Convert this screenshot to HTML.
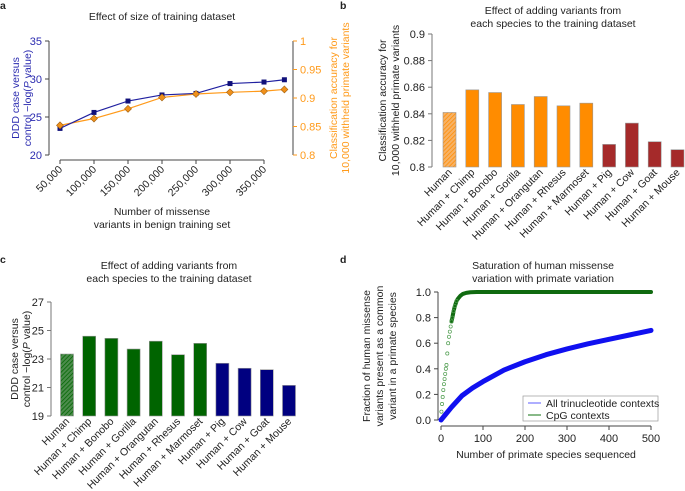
<!DOCTYPE html>
<html><head><meta charset="utf-8"><style>
body{margin:0;background:#fff}
svg{display:block;font-family:"Liberation Sans",sans-serif}
text{font-size:10.5px;fill:#222}
</style></head><body>
<svg id="s" width="685" height="491" viewBox="0 0 685 491">
<defs>
<pattern id="hatchO" width="3" height="3" patternUnits="userSpaceOnUse" patternTransform="rotate(45)"><rect width="3" height="3" fill="#f7b266"/><line x1="0" y1="0" x2="0" y2="3" stroke="#ff8c00" stroke-width="1.5"/></pattern>
<pattern id="hatchG" width="3" height="3" patternUnits="userSpaceOnUse" patternTransform="rotate(45)"><rect width="3" height="3" fill="#4c8c4c"/><line x1="0" y1="0" x2="0" y2="3" stroke="#006400" stroke-width="1.5"/></pattern>
</defs>
<g id="gA"></g>
<g id="gB"></g>
<g id="gC"></g>
<g id="gD"></g>
</svg>
<script>
// Panel a data
const aSizes = [50000,100000,150000,200000,250000,300000,350000,380000];
const aDDD = [23.5,25.6,27.1,27.9,28.1,29.4,29.6,29.9];
const aAcc = [0.852,0.864,0.881,0.901,0.907,0.910,0.912,0.915];
const aXTicks = [50000,100000,150000,200000,250000,300000,350000];
const aYTicks = [20,25,30,35];
const aY2Ticks = [0.8,0.85,0.9,0.95,1];
const aY2Labels = ["0.8","0.85","0.9","0.95","1"];
// Panel b data
const species = ["Human","Human + Chimp","Human + Bonobo","Human + Gorilla","Human + Orangutan","Human + Rhesus","Human + Marmoset","Human + Pig","Human + Cow","Human + Goat","Human + Mouse"];
const bAcc = [0.841,0.858,0.856,0.847,0.853,0.846,0.848,0.817,0.833,0.819,0.813];
const bTicks = [0.8,0.82,0.84,0.86,0.88,0.9];
const bTickLabels = ["0.8","0.82","0.84","0.86","0.88","0.9"];
// Panel c data
const cDDD = [23.35,24.6,24.45,23.7,24.25,23.3,24.1,22.7,22.35,22.25,21.15];
const cTicks = [19,21,23,25,27];
// Panel d data
const dBlueN = [0,5,10,25,50,75,100,150,200,250,300,350,400,450,500];
const dBlueV = [0,0.02,0.04,0.10,0.19,0.25,0.30,0.39,0.455,0.51,0.555,0.595,0.63,0.665,0.70];
const dGreenN = [1,2.5,4,5.5,7,8.5,10,11.5,13,15,17,19,21,23,25,27,30,33,37,41,46,52,60,70,85,120,200,300,400,500];
const dGreenV = [0.065,0.125,0.18,0.234,0.28,0.32,0.36,0.40,0.43,0.52,0.60,0.65,0.69,0.73,0.77,0.80,0.85,0.89,0.93,0.95,0.97,0.985,0.993,0.998,1,1,1,1,1,1];
const dXTicks = [0,100,200,300,400,500];
const dYTicks = [0,0.2,0.4,0.6,0.8,1.0];
const dYLabels = ["0.0","0.2","0.4","0.6","0.8","1.0"];

const NS="http://www.w3.org/2000/svg";
function mk(parent,tag,attrs,txt){const e=document.createElementNS(NS,tag);for(const k in attrs)e.setAttribute(k,attrs[k]);if(txt!==undefined)e.textContent=txt;parent.appendChild(e);return e;}
function lin(d0,d1,r0,r1){return v=>r0+(v-d0)/(d1-d0)*(r1-r0);}

// ---------- Panel A ----------
(function(){
const g=document.getElementById('gA');
const x=lin(50000,350000,60,264), y=lin(20,35,155,41), y2=lin(0.8,1,155,41);
let t=mk(g,'text',{x:0,y:9,'font-weight':'bold','font-size':'11'},'a');

t=mk(g,'text',{x:162,y:20,'text-anchor':'middle'},'Effect of size of training dataset');

let ax=mk(g,'line',{x1:49,y1:y(35),x2:49,y2:y(20),stroke:'#444'});

aYTicks.forEach(v=>{mk(g,'line',{x1:45,x2:49,y1:y(v),y2:y(v),stroke:'#444'});
 const l=mk(g,'text',{x:42,y:y(v)+4,'text-anchor':'end',fill:'#2b2bb0',style:'fill:#2b2bb0;font-size:11px'},v);
 });
ax=mk(g,'line',{x1:293,y1:y2(1),x2:293,y2:y2(0.8),stroke:'#444'});

aY2Ticks.forEach((v,i)=>{mk(g,'line',{x1:293,x2:297,y1:y2(v),y2:y2(v),stroke:'#ff9a1a'});
 const l=mk(g,'text',{x:300,y:y2(v)+4,style:'fill:#ff9a1a;font-size:11px'},aY2Labels[i]);
 });
ax=mk(g,'line',{x1:60,x2:264,y1:160,y2:160,stroke:'#444'});

aXTicks.forEach(v=>{mk(g,'line',{x1:x(v),x2:x(v),y1:160,y2:164,stroke:'#444'});
 const l=mk(g,'text',{x:x(v)+3,y:170,'text-anchor':'end',transform:`rotate(-45 ${x(v)+3} 170)`},v.toLocaleString('en-US'));
 });
t=mk(g,'text',{x:162,y:215,'text-anchor':'middle'},'Number of missense');

mk(g,'text',{x:162,y:228,'text-anchor':'middle'},'variants in benign training set');
t=mk(g,'text',{x:0,y:0,'text-anchor':'middle',transform:'translate(19,98) rotate(-90)',style:'fill:#2b2bb0;font-size:10.5px'},'DDD case versus');

t=mk(g,'text',{x:0,y:0,'text-anchor':'middle',transform:'translate(31,98) rotate(-90)',style:'fill:#2b2bb0;font-size:10.5px'});
t.innerHTML='control \u2212log(<tspan font-style="italic">P</tspan> value)';
t=mk(g,'text',{x:0,y:0,'text-anchor':'middle',transform:'translate(337,98) rotate(-90)',style:'fill:#ff9a1a;font-size:10.5px'},'Classification accuracy for');

mk(g,'text',{x:0,y:0,'text-anchor':'middle',transform:'translate(349,98) rotate(-90)',style:'fill:#ff9a1a;font-size:10.5px'},'10,000 withheld primate variants');
let p=mk(g,'polyline',{points:aSizes.map((s,i)=>x(s)+','+y2(aAcc[i])).join(' '),fill:'none',stroke:'#ff9a1a','stroke-width':1.2});

p=mk(g,'polyline',{points:aSizes.map((s,i)=>x(s)+','+y(aDDD[i])).join(' '),fill:'none',stroke:'#2020a0','stroke-width':1.2});

aSizes.forEach((s,i)=>{const cx=x(s),cy=y(aDDD[i]);
 const r=mk(g,'rect',{x:cx-2.5,y:cy-2.5,width:5,height:5,fill:'#10107a'});
 
 const cy2=y2(aAcc[i]);
 const d=mk(g,'polygon',{points:`${cx},${cy2-3.5} ${cx+3.5},${cy2} ${cx},${cy2+3.5} ${cx-3.5},${cy2}`,fill:'#f0901a',stroke:'#a06010','stroke-width':0.6});
 });
})();

// bar panel helper
function barPanel(gid,vals,ticks,tickLabels,y0v,y1v,top,bot,axX,c0,step,colors,hatch,letter,lx,ly,titleX,titleY,ytitles){
const g=document.getElementById(gid);
const y=lin(y0v,y1v,bot,top);
let t=mk(g,'text',{x:lx,y:ly,'font-weight':'bold','font-size':'11'},letter);

t=mk(g,'text',{x:titleX,y:titleY,'text-anchor':'middle'},'Effect of adding variants from');

mk(g,'text',{x:titleX,y:titleY+13,'text-anchor':'middle'},'each species to the training dataset');
let ax=mk(g,'line',{x1:axX,x2:axX,y1:top,y2:bot,stroke:'#777'});

ticks.forEach((v,i)=>{mk(g,'line',{x1:axX-4,x2:axX,y1:y(v),y2:y(v),stroke:'#777'});
 const l=mk(g,'text',{x:axX-7,y:y(v)+4,'text-anchor':'end',style:'font-size:11px'},tickLabels[i]);
 });
ytitles.forEach((tt,i)=>{const e=mk(g,'text',{x:0,y:0,'text-anchor':'middle',transform:`translate(${tt.x},${(top+bot)/2}) rotate(-90)`});e.innerHTML=tt.t;
 if(i===0){}});
vals.forEach((v,i)=>{const cx=c0+i*step;
 const r=mk(g,'rect',{x:cx-6.5,y:y(v),width:13,height:bot-y(v),fill:i===0?hatch:colors(i),stroke:'#999','stroke-width':0.6});
 
 const l=mk(g,'text',{x:cx+3,y:bot+6,'text-anchor':'end',transform:`rotate(-45 ${cx+3} ${bot+6})`},species[i]);
 });
}
barPanel('gB',bAcc,bTicks,bTickLabels,0.8,0.9,34,167,432,449.5,22.8,i=>i<7?'#ff8c00':'#a52a2a','url(#hatchO)','b',340,9,553,14,
 [{x:386,t:'Classification accuracy for'},{x:399,t:'10,000 withheld primate variants'}]);
barPanel('gC',cDDD,cTicks,cTicks.map(String),19,27,302,416,51,67,22.2,i=>i<7?'#006400':'#000080','url(#hatchG)','c',0,263,169,269,
 [{x:18,t:'DDD case versus'},{x:30,t:'control \u2212log(<tspan font-style="italic">P</tspan> value)'}]);

// ---------- Panel D ----------
(function(){
const g=document.getElementById('gD');
const x=lin(0,500,441,651), y=lin(0,1,420,292);
let t=mk(g,'text',{x:340,y:263,'font-weight':'bold','font-size':'11'},'d');

t=mk(g,'text',{x:543,y:269,'text-anchor':'middle'},'Saturation of human missense');

mk(g,'text',{x:543,y:282,'text-anchor':'middle'},'variation with primate variation');
let ax=mk(g,'line',{x1:438,x2:438,y1:y(1),y2:y(0),stroke:'#444'});

dYTicks.forEach((v,i)=>{mk(g,'line',{x1:434,x2:438,y1:y(v),y2:y(v),stroke:'#444'});
 const l=mk(g,'text',{x:431,y:y(v)+4,'text-anchor':'end',style:'font-size:11px'},dYLabels[i]);
 });
ax=mk(g,'line',{x1:x(0),x2:x(500),y1:426,y2:426,stroke:'#444'});

dXTicks.forEach(v=>{mk(g,'line',{x1:x(v),x2:x(v),y1:426,y2:430,stroke:'#444'});
 const l=mk(g,'text',{x:x(v),y:442,'text-anchor':'middle',style:'font-size:11px'},v);
 });
t=mk(g,'text',{x:546,y:458,'text-anchor':'middle'},'Number of primate species sequenced');

['Fraction of human missense','variants present as a common','variant in a primate species'].forEach((s,i)=>{
 const e=mk(g,'text',{x:0,y:0,'text-anchor':'middle',transform:`translate(${370+i*13},356) rotate(-90)`},s);
 if(i===0){}});
let p=mk(g,'polyline',{points:dBlueN.map((n,i)=>x(n)+','+y(dBlueV[i])).join(' '),fill:'none',stroke:'#1010f0','stroke-width':5,'stroke-linecap':'round','stroke-linejoin':'round'});

const gp=dGreenN.map((n,i)=>[n,dGreenV[i]]).filter(d=>d[0]>=25);
p=mk(g,'polyline',{points:gp.map(d=>x(d[0])+','+y(d[1])).join(' '),fill:'none',stroke:'#106a10','stroke-width':4,'stroke-linecap':'round','stroke-linejoin':'round'});

dGreenN.forEach((n,i)=>{if(n>40)return;
 const c=mk(g,'circle',{cx:x(n),cy:y(dGreenV[i]),r:1.6,fill:'none',stroke:'#4a9a4a','stroke-width':0.7});
 });
const lg=mk(g,'g',{});

mk(lg,'rect',{x:523,y:396,width:135,height:25,fill:'#fff',stroke:'#999','stroke-width':0.7});
let le=mk(lg,'line',{x1:528,x2:541,y1:403,y2:403,stroke:'#7777ff','stroke-width':1.2});

mk(lg,'text',{x:546,y:407,style:'font-size:10.5px'},'All trinucleotide contexts');
le=mk(lg,'line',{x1:528,x2:541,y1:415,y2:415,stroke:'#3a8a3a','stroke-width':1.2});

mk(lg,'text',{x:546,y:419,style:'font-size:10.5px'},'CpG contexts');
})();
</script>
</body></html>
